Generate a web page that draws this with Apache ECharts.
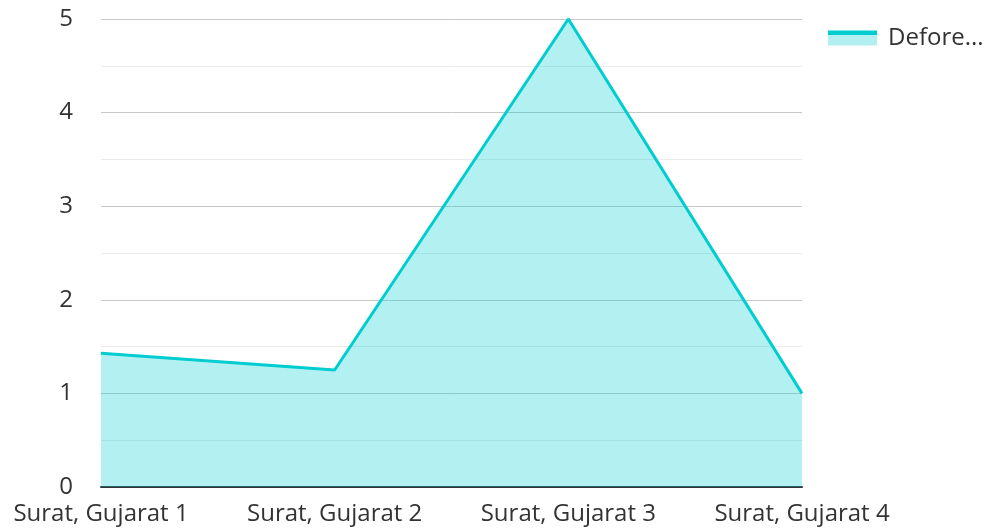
<!DOCTYPE html>
<html>
<head>
<meta charset="utf-8">
<script src="https://cdn.jsdelivr.net/npm/echarts@6/dist/echarts.min.js"></script>
<style>
  html, body { margin: 0; padding: 0; background: #fff; }
  #chart { width: 988px; height: 528px; }
</style>
</head>
<body>
<div id="chart"></div>
<script>
var categories = ['Surat, Gujarat 1', 'Surat, Gujarat 2', 'Surat, Gujarat 3', 'Surat, Gujarat 4'];
var seriesName = 'Defore Operation';
var values = [1.43, 1.25, 5, 1];
var yTicks = [0, 1, 2, 3, 4, 5];

var chart = echarts.init(document.getElementById('chart'));
var font = '"Open Sans", "Noto Sans", sans-serif';

// legend swatch: dark line on top of the pale area colour
var swatch = new echarts.graphic.LinearGradient(0, 0, 0, 1, [
  { offset: 0, color: '#00cdd0' },
  { offset: 0.28, color: '#00cdd0' },
  { offset: 0.28, color: '#b2eff0' },
  { offset: 1, color: '#b2eff0' }
]);

chart.setOption({
  animation: false,
  textStyle: { fontFamily: font },
  grid: { left: 101, right: 186, top: 19, bottom: 41 },
  legend: {
    left: 823,
    top: 21,
    orient: 'vertical',
    icon: 'rect',
    itemWidth: 49,
    itemHeight: 15,
    itemGap: 10,
    itemStyle: { color: swatch },
    textStyle: { fontSize: 24, color: '#333', fontFamily: font, width: 98, overflow: 'truncate', ellipsis: '...', padding: [0, 0, 0, 6] },
    data: [seriesName]
  },
  xAxis: {
    type: 'category',
    data: categories,
    boundaryGap: false,
    axisLine: { lineStyle: { color: '#333', width: 2 } },
    axisTick: { show: false },
    axisLabel: { fontSize: 24, color: '#333', margin: 15, fontFamily: font },
    splitLine: { show: false }
  },
  yAxis: {
    type: 'value',
    min: yTicks[0],
    max: yTicks[yTicks.length - 1],
    interval: 1,
    axisLine: { show: false },
    axisTick: { show: false },
    axisLabel: { fontSize: 24, color: '#333', margin: 28, fontFamily: font },
    splitLine: { lineStyle: { color: '#c8c8c8', width: 1 } },
    minorTick: { show: false, splitNumber: 2 },
    minorSplitLine: { show: true, lineStyle: { color: '#ebebeb', width: 1 } }
  },
  series: [{
    name: seriesName,
    type: 'line',
    data: values,
    symbol: 'none',
    lineStyle: { color: '#00cdd0', width: 3 },
    itemStyle: { color: '#00cdd0' },
    areaStyle: { color: '#00cdd0', opacity: 0.3 }
  }]
});
</script>
</body>
</html>
